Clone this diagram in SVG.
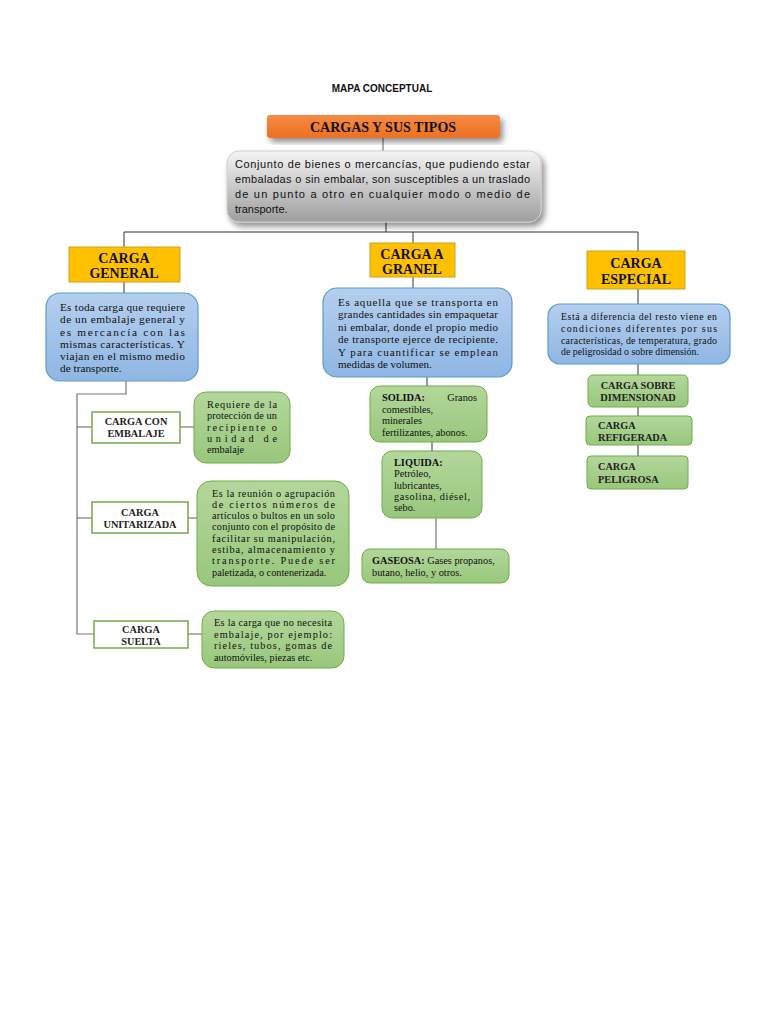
<svg xmlns="http://www.w3.org/2000/svg" width="768" height="1024" viewBox="0 0 768 1024">
<style>
.ser{font-family:"Liberation Serif","Times New Roman",serif;fill:#111}
.b{font-weight:bold}
.hdr{font-family:"Liberation Serif",serif;font-weight:bold;font-size:14px;fill:#111;text-anchor:middle}
.sm{font-family:"Liberation Serif",serif;font-weight:bold;font-size:10.3px;fill:#222}
.blue{fill:url(#gBlue);stroke:#5B9BD5;stroke-width:1.2}
.green{fill:url(#gGreen);stroke:#70AD47;stroke-width:1}
.yel{fill:#FFC000;stroke:#C9A227;stroke-width:1}
.wht{fill:#fff;stroke:#70AD47;stroke-width:1.5}
.ln{stroke:#333;stroke-width:1;fill:none}
.lg{stroke:#777;stroke-width:1.2;fill:none}
</style>
<defs>
<linearGradient id="gBlue" x1="0" y1="0" x2="0" y2="1"><stop offset="0" stop-color="#B4CFEE"/><stop offset="1" stop-color="#8FB6E3"/></linearGradient>
<linearGradient id="gGreen" x1="0" y1="0" x2="0" y2="1"><stop offset="0" stop-color="#B3D79B"/><stop offset="1" stop-color="#98C77C"/></linearGradient>
<linearGradient id="gGray" x1="0" y1="0" x2="0" y2="1"><stop offset="0" stop-color="#F4F4F4"/><stop offset="0.5" stop-color="#C9C9C9"/><stop offset="1" stop-color="#9E9E9E"/></linearGradient>
<linearGradient id="gOr" x1="0" y1="0" x2="0" y2="1"><stop offset="0" stop-color="#F58B45"/><stop offset="1" stop-color="#EE7020"/></linearGradient>
<filter id="sh" x="-10%" y="-20%" width="125%" height="150%"><feGaussianBlur in="SourceAlpha" stdDeviation="3"/><feOffset dx="3" dy="4"/><feComponentTransfer><feFuncA type="linear" slope="0.45"/></feComponentTransfer><feMerge><feMergeNode/><feMergeNode in="SourceGraphic"/></feMerge></filter>
</defs>
<rect width="768" height="1024" fill="#fff"/>

<text x="382" y="92" font-family="Liberation Sans,Arial,sans-serif" font-weight="bold" font-size="10" text-anchor="middle" fill="#111">MAPA CONCEPTUAL</text>

<g id="connectors">
<line class="lg" x1="383" y1="138" x2="383" y2="151"/>
<line class="ln" x1="386" y1="222" x2="386" y2="232"/>
<line class="ln" x1="124" y1="232" x2="638" y2="232"/>
<line class="ln" x1="124" y1="232" x2="124" y2="247"/>
<line class="ln" x1="413" y1="232" x2="413" y2="243"/>
<line class="ln" x1="638" y1="232" x2="638" y2="251"/>
<line class="ln" x1="124" y1="282" x2="124" y2="293"/>
<line class="ln" x1="413" y1="277" x2="413" y2="288"/>
<line class="ln" x1="638" y1="289" x2="638" y2="304"/>
<polyline class="lg" points="126,381 126,394 77,394 77,634 94,634"/>
<line class="lg" x1="77" y1="427" x2="92" y2="427"/>
<line class="lg" x1="77" y1="518" x2="92" y2="518"/>
<line class="lg" x1="180" y1="427" x2="194" y2="427"/>
<line class="lg" x1="188" y1="518" x2="197" y2="518"/>
<line class="lg" x1="188" y1="634" x2="202" y2="634"/>
<line class="ln" x1="427" y1="377" x2="427" y2="386"/>
<line class="ln" x1="432" y1="442" x2="432" y2="451"/>
<line class="lg" x1="436" y1="518" x2="436" y2="549"/>
<line class="ln" x1="638" y1="364" x2="638" y2="375"/>
<line class="ln" x1="638" y1="407" x2="638" y2="416"/>
<line class="ln" x1="638" y1="445" x2="638" y2="456"/>
</g>

<g id="n-titulo">
<rect x="267" y="115" width="233" height="23" rx="3" fill="url(#gOr)" filter="url(#sh)"/>
<text x="383" y="132" class="ser b" font-size="14" text-anchor="middle">CARGAS Y SUS TIPOS</text>
</g>

<g id="n-definicion">
<rect x="227" y="151" width="314" height="71" rx="12" fill="url(#gGray)" stroke="#CFCFCF" filter="url(#sh)"/>
<g font-family="Liberation Sans,Arial,sans-serif" font-size="11" fill="#111">
<text x="235" y="168" textLength="295" lengthAdjust="spacing">Conjunto de bienes o mercancías,  que pudiendo estar</text>
<text x="235" y="183" textLength="295" lengthAdjust="spacing">embaladas o sin embalar, son susceptibles a un traslado</text>
<text x="235" y="198" textLength="295" lengthAdjust="spacing">de un punto a otro en cualquier modo o medio de</text>
<text x="235" y="213">transporte.</text>
</g>
</g>

<g id="n-general">
<rect class="yel" x="69" y="247" width="111" height="35"/>
<text class="hdr" x="124" y="263">CARGA</text>
<text class="hdr" x="124" y="278">GENERAL</text>
</g>
<g id="n-general-def">
<rect class="blue" x="46" y="293" width="152" height="88" rx="14"/>
<g class="ser" font-size="11.3">
<text x="60" y="311" textLength="125" lengthAdjust="spacing">Es toda carga que requiere</text>
<text x="60" y="323" textLength="125" lengthAdjust="spacing">de un embalaje general y</text>
<text x="60" y="336" textLength="125" lengthAdjust="spacing">es mercancía con las</text>
<text x="60" y="348" textLength="125" lengthAdjust="spacing">mismas características. Y</text>
<text x="60" y="360" textLength="125" lengthAdjust="spacing">viajan en el mismo medio</text>
<text x="60" y="372">de transporte.</text>
</g>
</g>

<g id="n-embalaje">
<rect class="wht" x="92" y="412" width="88" height="31"/>
<text class="sm" x="136" y="425" text-anchor="middle">CARGA CON</text>
<text class="sm" x="136" y="437" text-anchor="middle">EMBALAJE</text>
</g>
<g id="n-embalaje-def">
<rect class="green" x="194" y="392" width="96" height="71" rx="12"/>
<g class="ser" font-size="10.3">
<text x="207" y="408" textLength="70" lengthAdjust="spacing">Requiere de la</text>
<text x="207" y="419" textLength="70" lengthAdjust="spacing">protección de un</text>
<text x="207" y="431" textLength="70" lengthAdjust="spacing">recipiente o</text>
<text x="207" y="442" textLength="70" lengthAdjust="spacing">unidad de</text>
<text x="207" y="453">embalaje</text>
</g>
</g>

<g id="n-unitarizada">
<rect class="wht" x="92" y="502" width="96" height="31"/>
<text class="sm" x="140" y="516" text-anchor="middle">CARGA</text>
<text class="sm" x="140" y="528" text-anchor="middle">UNITARIZADA</text>
</g>
<g id="n-unitarizada-def">
<rect class="green" x="197" y="481" width="152" height="105" rx="14"/>
<g class="ser" font-size="10.3">
<text x="212" y="497" textLength="123" lengthAdjust="spacing">Es la reunión o  agrupación</text>
<text x="212" y="508" textLength="123" lengthAdjust="spacing">de ciertos números de</text>
<text x="212" y="519" textLength="123" lengthAdjust="spacing">artículos o bultos en un solo</text>
<text x="212" y="530" textLength="123" lengthAdjust="spacing">conjunto con el propósito de</text>
<text x="212" y="542" textLength="123" lengthAdjust="spacing">facilitar su manipulación,</text>
<text x="212" y="553" textLength="123" lengthAdjust="spacing">estiba, almacenamiento y</text>
<text x="212" y="564" textLength="123" lengthAdjust="spacing">transporte. Puede ser</text>
<text x="212" y="576">paletizada, o contenerizada.</text>
</g>
</g>

<g id="n-suelta">
<rect class="wht" x="94" y="621" width="94" height="27"/>
<text class="sm" x="141" y="633" text-anchor="middle">CARGA</text>
<text class="sm" x="141" y="645" text-anchor="middle">SUELTA</text>
</g>
<g id="n-suelta-def">
<rect class="green" x="202" y="611" width="142" height="57" rx="12"/>
<g class="ser" font-size="10.3">
<text x="214" y="626" textLength="118" lengthAdjust="spacing">Es la carga que no necesita</text>
<text x="214" y="638" textLength="118" lengthAdjust="spacing">embalaje, por ejemplo:</text>
<text x="214" y="649" textLength="118" lengthAdjust="spacing">rieles, tubos, gomas de</text>
<text x="214" y="661">automóviles, piezas etc.</text>
</g>
</g>

<g id="n-granel">
<rect class="yel" x="370" y="243" width="85" height="34"/>
<text class="hdr" x="412" y="259">CARGA A</text>
<text class="hdr" x="412" y="274">GRANEL</text>
</g>
<g id="n-granel-def">
<rect class="blue" x="323" y="288" width="189" height="89" rx="14"/>
<g class="ser" font-size="11">
<text x="338" y="306" textLength="160" lengthAdjust="spacing">Es aquella que se transporta en</text>
<text x="338" y="318" textLength="160" lengthAdjust="spacing">grandes cantidades sin empaquetar</text>
<text x="338" y="331" textLength="160" lengthAdjust="spacing">ni embalar, donde el propio medio</text>
<text x="338" y="343" textLength="160" lengthAdjust="spacing">de transporte ejerce de recipiente.</text>
<text x="338" y="356" textLength="160" lengthAdjust="spacing">Y para cuantificar se emplean</text>
<text x="338" y="368">medidas de volumen.</text>
</g>
</g>

<g id="n-solida">
<rect class="green" x="370" y="386" width="117" height="56" rx="10"/>
<g class="ser" font-size="10.3">
<text x="382" y="401"><tspan class="b">SOLIDA:</tspan></text>
<text x="477" y="401" text-anchor="end">Granos</text>
<text x="382" y="413">comestibles,</text>
<text x="382" y="424">minerales</text>
<text x="382" y="436">fertilizantes, abonos.</text>
</g>
</g>

<g id="n-liquida">
<rect class="green" x="382" y="451" width="100" height="67" rx="10"/>
<g class="ser" font-size="10.3">
<text x="394" y="466" class="ser b">LIQUIDA:</text>
<text x="394" y="477">Petróleo,</text>
<text x="394" y="489">lubricantes,</text>
<text x="394" y="500" textLength="76" lengthAdjust="spacing">gasolina, diésel,</text>
<text x="394" y="511">sebo.</text>
</g>
</g>

<g id="n-gaseosa">
<rect class="green" x="362" y="549" width="147" height="34" rx="8"/>
<g class="ser" font-size="10.3">
<text x="372" y="564"><tspan class="b">GASEOSA:</tspan> Gases propanos,</text>
<text x="372" y="576">butano, helio,  y otros.</text>
</g>
</g>

<g id="n-especial">
<rect class="yel" x="587" y="251" width="98" height="38"/>
<text class="hdr" x="636" y="268">CARGA</text>
<text class="hdr" x="636" y="284">ESPECIAL</text>
</g>
<g id="n-especial-def">
<rect class="blue" x="548" y="304" width="182" height="60" rx="12"/>
<g class="ser" font-size="9.9">
<text x="561" y="320" textLength="156" lengthAdjust="spacing">Está a diferencia del resto viene en</text>
<text x="561" y="332" textLength="156" lengthAdjust="spacing">condiciones diferentes por sus</text>
<text x="561" y="344" textLength="156" lengthAdjust="spacing">características, de temperatura, grado</text>
<text x="561" y="355">de peligrosidad o  sobre dimensión.</text>
</g>
</g>

<g id="n-sobredim">
<rect class="green" x="588" y="375" width="100" height="32" rx="5"/>
<text class="sm" x="638" y="389" text-anchor="middle" font-size="10.8">CARGA SOBRE</text>
<text class="sm" x="638" y="401" text-anchor="middle" font-size="10.8">DIMENSIONAD</text>
</g>
<g id="n-refrigerada">
<rect class="green" x="586" y="416" width="106" height="29" rx="4"/>
<text class="sm" x="598" y="429" font-size="10.8">CARGA</text>
<text class="sm" x="598" y="441" font-size="10.8">REFIGERADA</text>
</g>
<g id="n-peligrosa">
<rect class="green" x="587" y="456" width="101" height="33" rx="4"/>
<text class="sm" x="598" y="470" font-size="10.8">CARGA</text>
<text class="sm" x="598" y="483" font-size="10.8">PELIGROSA</text>
</g>
</svg>
